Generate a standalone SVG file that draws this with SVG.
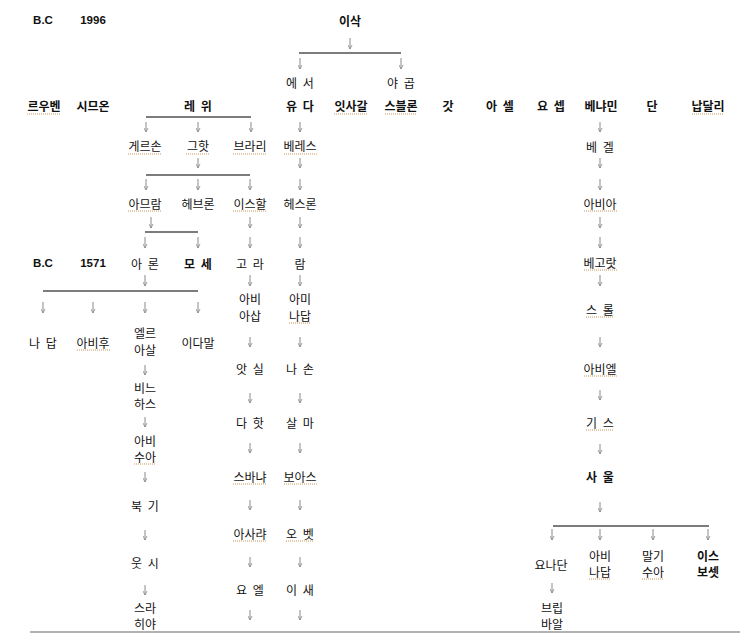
<svg xmlns="http://www.w3.org/2000/svg" width="740" height="634" viewBox="0 0 740 634">
<style>
text{font-family:"Noto Sans CJK KR","Noto Sans",sans-serif;font-size:12px;fill:#111;text-anchor:middle;dominant-baseline:central;word-spacing:3px}
.b{font-weight:bold}
.n{font-family:"Liberation Sans",Arial,sans-serif;font-weight:bold;font-size:11.5px}
.ar{stroke:#8a8a8a;stroke-width:1;marker-end:url(#ah)}
.hl{stroke:#505050;stroke-width:1.6;fill:none}
.sq{stroke:#c8985a;stroke-width:1;stroke-dasharray:1 1}
</style>
<defs>
<marker id="ah" viewBox="0 0 6 6" refX="5" refY="3" markerWidth="5" markerHeight="5" markerUnits="userSpaceOnUse" orient="auto">
<path d="M0,0.5 L5,3 L0,5.5" fill="none" stroke="#8a8a8a" stroke-width="1"/>
</marker>
</defs>
<rect width="740" height="634" fill="#fff"/>

<g id="connectors">
<line class="hl" x1="299" y1="53" x2="401" y2="53"/>
<line class="hl" x1="146" y1="117" x2="251" y2="117"/>
<line class="hl" x1="146" y1="175" x2="250" y2="175"/>
<line class="hl" x1="145" y1="232" x2="198" y2="232"/>
<line class="hl" x1="43" y1="291" x2="198" y2="291"/>
<line class="hl" x1="553" y1="526" x2="709" y2="526"/>
<line x1="30" y1="632" x2="740" y2="632" stroke="#999" stroke-width="1.5"/>

<line class="ar" x1="350" y1="38" x2="350" y2="49"/>
<line class="ar" x1="300" y1="58" x2="300" y2="69"/>
<line class="ar" x1="401" y1="58" x2="401" y2="69"/>

<line class="ar" x1="146" y1="122" x2="146" y2="132"/>
<line class="ar" x1="198" y1="122" x2="198" y2="132"/>
<line class="ar" x1="251" y1="122" x2="251" y2="132"/>
<line class="ar" x1="300" y1="122" x2="300" y2="132"/>
<line class="ar" x1="600" y1="122" x2="600" y2="132"/>

<line class="ar" x1="198" y1="158" x2="198" y2="168"/>
<line class="ar" x1="300" y1="158" x2="300" y2="168"/>
<line class="ar" x1="600" y1="158" x2="600" y2="168"/>

<line class="ar" x1="146" y1="179" x2="146" y2="190"/>
<line class="ar" x1="198" y1="179" x2="198" y2="190"/>
<line class="ar" x1="250" y1="179" x2="250" y2="190"/>
<line class="ar" x1="300" y1="179" x2="300" y2="190"/>
<line class="ar" x1="600" y1="179" x2="600" y2="190"/>

<line class="ar" x1="151" y1="217" x2="151" y2="228"/>
<line class="ar" x1="250" y1="217" x2="250" y2="228"/>
<line class="ar" x1="300" y1="217" x2="300" y2="228"/>
<line class="ar" x1="600" y1="217" x2="600" y2="228"/>

<line class="ar" x1="145" y1="237" x2="145" y2="248"/>
<line class="ar" x1="198" y1="237" x2="198" y2="248"/>
<line class="ar" x1="250" y1="237" x2="250" y2="248"/>
<line class="ar" x1="300" y1="237" x2="300" y2="248"/>
<line class="ar" x1="600" y1="237" x2="600" y2="248"/>

<line class="ar" x1="145" y1="275" x2="145" y2="286"/>
<line class="ar" x1="250" y1="275" x2="250" y2="286"/>
<line class="ar" x1="300" y1="275" x2="300" y2="286"/>
<line class="ar" x1="600" y1="275" x2="600" y2="286"/>

<line class="ar" x1="43" y1="302" x2="43" y2="313"/>
<line class="ar" x1="93" y1="302" x2="93" y2="313"/>
<line class="ar" x1="145" y1="302" x2="145" y2="313"/>
<line class="ar" x1="198" y1="302" x2="198" y2="313"/>

<line class="ar" x1="250" y1="337" x2="250" y2="347"/>
<line class="ar" x1="300" y1="337" x2="300" y2="347"/>
<line class="ar" x1="600" y1="337" x2="600" y2="347"/>

<line class="ar" x1="145" y1="365" x2="145" y2="375"/>
<line class="ar" x1="250" y1="393" x2="250" y2="403"/>
<line class="ar" x1="300" y1="393" x2="300" y2="403"/>
<line class="ar" x1="600" y1="390" x2="600" y2="400"/>

<line class="ar" x1="145" y1="417" x2="145" y2="427"/>
<line class="ar" x1="250" y1="443" x2="250" y2="453"/>
<line class="ar" x1="300" y1="443" x2="300" y2="453"/>
<line class="ar" x1="600" y1="444" x2="600" y2="454"/>

<line class="ar" x1="145" y1="472" x2="145" y2="482"/>
<line class="ar" x1="250" y1="500" x2="250" y2="510"/>
<line class="ar" x1="300" y1="500" x2="300" y2="510"/>
<line class="ar" x1="600" y1="502" x2="600" y2="512"/>

<line class="ar" x1="145" y1="530" x2="145" y2="540"/>
<line class="ar" x1="552" y1="529" x2="552" y2="540"/>
<line class="ar" x1="600" y1="529" x2="600" y2="540"/>
<line class="ar" x1="653" y1="529" x2="653" y2="540"/>
<line class="ar" x1="708" y1="529" x2="708" y2="540"/>

<line class="ar" x1="250" y1="557" x2="250" y2="567"/>
<line class="ar" x1="300" y1="557" x2="300" y2="567"/>

<line class="ar" x1="145" y1="585" x2="145" y2="595"/>
<line class="ar" x1="552" y1="583" x2="552" y2="593"/>

<line class="ar" x1="250" y1="610" x2="250" y2="620"/>
<line class="ar" x1="300" y1="610" x2="300" y2="620"/>
</g>

<g id="squiggles">
<line class="sq" x1="27" y1="114" x2="60" y2="114"/>
<line class="sq" x1="334" y1="114" x2="368" y2="114"/>
<line class="sq" x1="385" y1="114" x2="417" y2="114"/>
<line class="sq" x1="692" y1="114" x2="724" y2="114"/>
<line class="sq" x1="128" y1="154" x2="162" y2="154"/>
<line class="sq" x1="186" y1="154" x2="210" y2="154"/>
<line class="sq" x1="233" y1="154" x2="267" y2="154"/>
<line class="sq" x1="284" y1="154" x2="317" y2="154"/>
<line class="sq" x1="128" y1="211" x2="162" y2="211"/>
<line class="sq" x1="233" y1="211" x2="267" y2="211"/>
<line class="sq" x1="77" y1="350" x2="110" y2="350"/>
<line class="sq" x1="289" y1="323" x2="311" y2="323"/>
<line class="sq" x1="134" y1="464" x2="156" y2="464"/>
<line class="sq" x1="233" y1="484" x2="267" y2="484"/>
<line class="sq" x1="284" y1="484" x2="317" y2="484"/>
<line class="sq" x1="233" y1="541" x2="267" y2="541"/>
<line class="sq" x1="286" y1="541" x2="314" y2="541"/>
<line class="sq" x1="584" y1="211" x2="617" y2="211"/>
<line class="sq" x1="584" y1="270" x2="617" y2="270"/>
<line class="sq" x1="586" y1="317" x2="614" y2="317"/>
<line class="sq" x1="584" y1="376" x2="617" y2="376"/>
<line class="sq" x1="586" y1="430" x2="614" y2="430"/>
<line class="sq" x1="589" y1="579" x2="611" y2="579"/>
<line class="sq" x1="642" y1="579" x2="664" y2="579"/>
</g>

<g id="bc1996"><text class="n" x="43" y="20">B.C</text><text class="n" x="93" y="20">1996</text></g>
<g id="isak"><text class="b" x="350" y="20">이삭</text></g>
<g id="esau"><text x="300" y="82">에 서</text></g>
<g id="jacob"><text x="401" y="82">야 곱</text></g>

<g id="reuben"><text class="b" x="44" y="105">르우벤</text></g>
<g id="simeon"><text class="b" x="93" y="105">시므온</text></g>
<g id="levi"><text class="b" x="198" y="105">레 위</text></g>
<g id="judah"><text class="b" x="300" y="105">유 다</text></g>
<g id="issachar"><text class="b" x="351" y="105">잇사갈</text></g>
<g id="zebulun"><text class="b" x="401" y="105">스블론</text></g>
<g id="gad"><text class="b" x="448" y="105">갓</text></g>
<g id="asher"><text class="b" x="500" y="105">아 셀</text></g>
<g id="joseph"><text class="b" x="551" y="105">요 셉</text></g>
<g id="benjamin"><text class="b" x="601" y="105">베냐민</text></g>
<g id="dan"><text class="b" x="652" y="105">단</text></g>
<g id="naphtali"><text class="b" x="708" y="105">납달리</text></g>

<g id="gershon"><text x="145" y="145">게르손</text></g>
<g id="kohath"><text x="198" y="145">그핫</text></g>
<g id="merari"><text x="250" y="145">브라리</text></g>
<g id="perez"><text x="300" y="145">베레스</text></g>
<g id="becher"><text x="600" y="146">베 겔</text></g>

<g id="amram"><text x="145" y="203">아므람</text></g>
<g id="hebron"><text x="198" y="203">헤브론</text></g>
<g id="izhar"><text x="250" y="203">이스할</text></g>
<g id="hezron"><text x="300" y="203">헤스론</text></g>
<g id="abiah"><text x="600" y="203">아비아</text></g>

<g id="bc1571"><text class="n" x="43" y="263">B.C</text><text class="n" x="93" y="263">1571</text></g>
<g id="aaron"><text x="145" y="263">아 론</text></g>
<g id="moses"><text class="b" x="198" y="263">모 세</text></g>
<g id="korah"><text x="250" y="263">고 라</text></g>
<g id="ram"><text x="300" y="263">람</text></g>
<g id="bechorath"><text x="600" y="262">베고랏</text></g>

<g id="abiasaph"><text x="250"><tspan x="250" y="298">아비</tspan><tspan x="250" y="315">아삽</tspan></text></g>
<g id="amminadab"><text x="300"><tspan x="300" y="298">아미</tspan><tspan x="300" y="315">나답</tspan></text></g>
<g id="zeror"><text x="600" y="309">스 롤</text></g>

<g id="nadab"><text x="43" y="342">나 답</text></g>
<g id="abihu"><text x="93" y="342">아비후</text></g>
<g id="eleazar"><text x="145"><tspan x="145" y="332">엘르</tspan><tspan x="145" y="349">아살</tspan></text></g>
<g id="ithamar"><text x="198" y="342">이다말</text></g>

<g id="assir"><text x="250" y="368">앗 실</text></g>
<g id="nahshon"><text x="300" y="368">나 손</text></g>
<g id="abiel"><text x="600" y="368">아비엘</text></g>

<g id="phinehas"><text x="145"><tspan x="145" y="387">비느</tspan><tspan x="145" y="403">하스</tspan></text></g>

<g id="tahath"><text x="250" y="422">다 핫</text></g>
<g id="salma"><text x="300" y="422">살 마</text></g>
<g id="kish"><text x="600" y="422">기 스</text></g>

<g id="abishua"><text x="145"><tspan x="145" y="440">아비</tspan><tspan x="145" y="456">수아</tspan></text></g>

<g id="zephaniah"><text x="250" y="476">스바냐</text></g>
<g id="boaz"><text x="300" y="476">보아스</text></g>
<g id="saul"><text class="b" x="600" y="476">사 울</text></g>

<g id="bukki"><text x="145" y="505">북 기</text></g>

<g id="azariah"><text x="250" y="533">아사랴</text></g>
<g id="obed"><text x="300" y="533">오 벳</text></g>

<g id="jonathan"><text x="551" y="564">요나단</text></g>
<g id="abinadab"><text x="600"><tspan x="600" y="555">아비</tspan><tspan x="600" y="571">나답</tspan></text></g>
<g id="malchishua"><text x="653"><tspan x="653" y="555">말기</tspan><tspan x="653" y="571">수아</tspan></text></g>
<g id="ishbosheth"><text class="b" x="708"><tspan x="708" y="555">이스</tspan><tspan x="708" y="571">보셋</tspan></text></g>

<g id="uzzi"><text x="145" y="562">웃 시</text></g>

<g id="joel"><text x="250" y="589">요 엘</text></g>
<g id="jesse"><text x="300" y="589">이 새</text></g>

<g id="zerahiah"><text x="145"><tspan x="145" y="607">스라</tspan><tspan x="145" y="623">히야</tspan></text></g>
<g id="meribbaal"><text x="552"><tspan x="552" y="607">브립</tspan><tspan x="552" y="623">바알</tspan></text></g>
</svg>
